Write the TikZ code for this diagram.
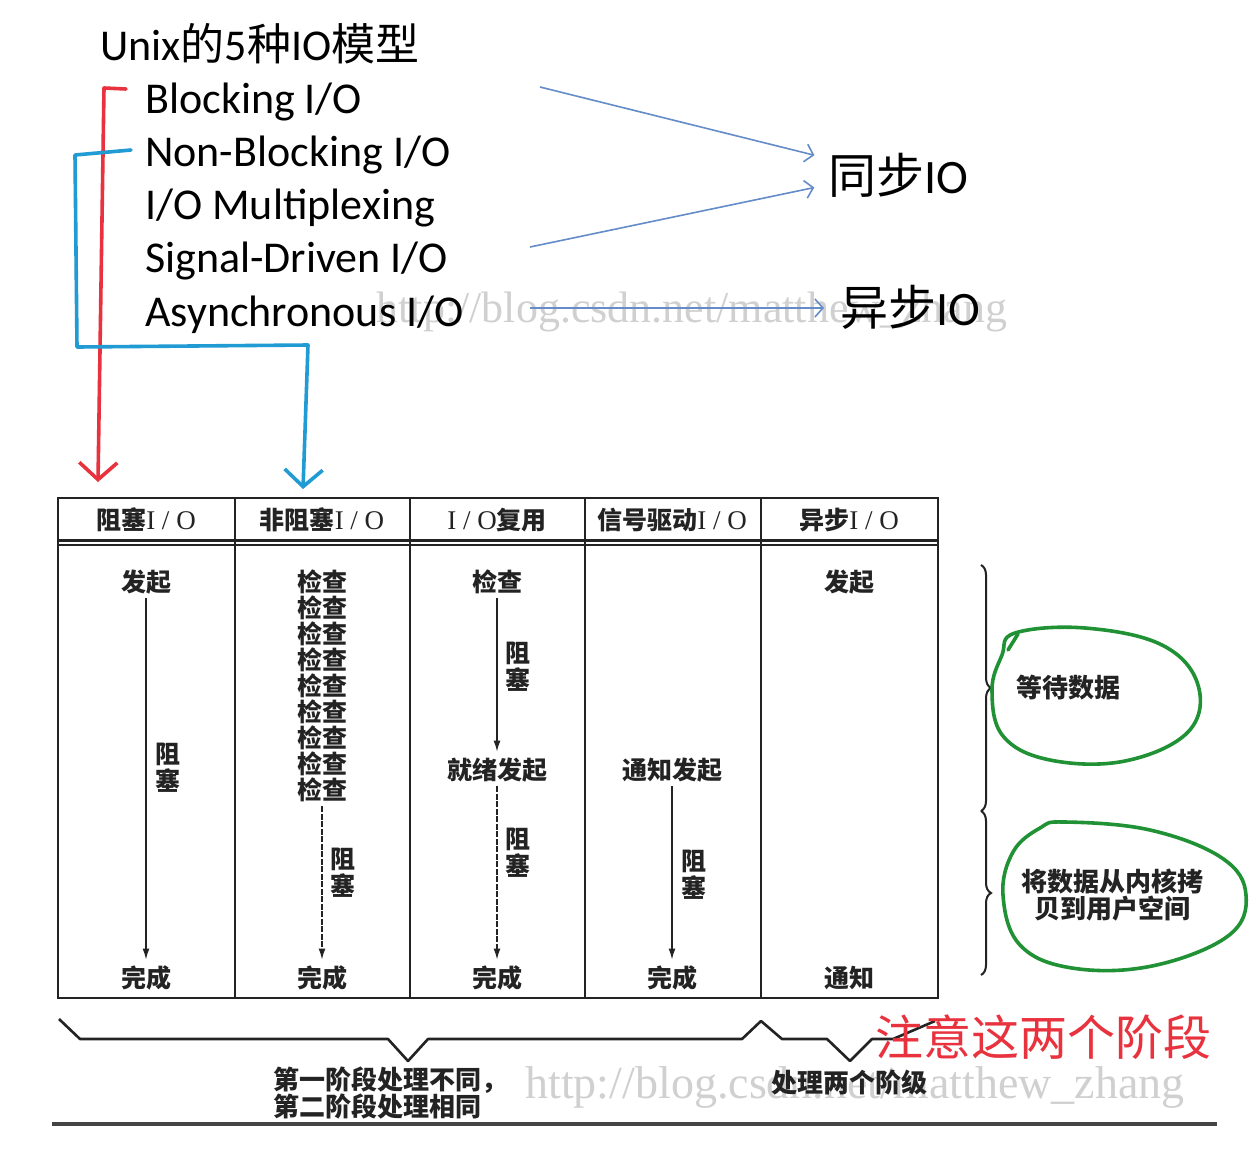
\documentclass[tikz,border=0pt]{standalone}
\usepackage{fontspec}
\setmainfont{Carlito}
\newfontfamily\cjk{Noto Sans CJK SC}
\newfontfamily\tser{Liberation Serif}
\usetikzlibrary{arrows.meta,decorations.pathreplacing}
\definecolor{penred}{RGB}{232,50,62}
\definecolor{penblue}{RGB}{32,155,212}
\definecolor{thinblue}{RGB}{100,140,200}
\definecolor{pengreen}{RGB}{32,145,52}
\definecolor{wmark}{RGB}{208,208,208}
\definecolor{ink}{RGB}{35,35,35}
\begin{document}
\begin{tikzpicture}[x=1pt,y=-1pt,
  toptxt/.style={anchor=base west, inner sep=0pt, font=\fontsize{44}{50}\selectfont},
  bigtxt/.style={anchor=base west, inner sep=0pt, font=\fontsize{48}{54}\selectfont},
  cell/.style={inner sep=0pt, text=ink, font=\cjk\bfseries\fontsize{25}{26}\selectfont},
  stack/.style={cell, align=center, font=\cjk\bfseries\fontsize{25}{27}\selectfont},
  flow/.style={draw=ink, line width=1.4pt, -{Latex[length=11pt,width=7pt]}, shorten <=4pt, shorten >=6pt},
  flowd/.style={flow, dash pattern=on 6pt off 1.5pt},
  pen/.style={line width=3.6pt, line cap=round, line join=round},
  pentip/.style={-{Straight Barb[length=17pt,width=38pt]}},
  syncarrow/.style={draw=thinblue, line width=1.6pt, -{Straight Barb[length=8pt,width=18pt]}},
  frame/.style={draw=ink, line width=2.2pt},
  wm/.style={inner sep=0pt, text=wmark, font=\tser\fontsize{44}{48}\selectfont},
  loop/.style={draw=pengreen, line width=3.6pt, line cap=round}
]
\fill[white] (0,0) rectangle (1252,1154);
\useasboundingbox (0,0) rectangle (1252,1154);

% watermarks
\node[wm] (wmtop) at (692,312) {http://blog.csdn.net/matthew\_zhang};
\node[wm, font=\tser\fontsize{46}{50}\selectfont] (wmbot) at (855,1087) {http://blog.csdn.net/matthew\_zhang};

% top list
\node[toptxt] (title) at (100,60) {Unix{\cjk 的}5{\cjk 种}IO{\cjk 模型}};
\node[toptxt] (blk) at (145,113) {Blocking I/O};
\node[toptxt] (nblk) at (145,166) {Non-Blocking I/O};
\node[toptxt] (mux) at (145,219) {I/O Multiplexing};
\node[toptxt] (sig) at (145,272) {Signal-Driven I/O};
\node[toptxt] (asy) at (145,326) {Asynchronous I/O};
\node[bigtxt] (sync) at (828,193) {{\cjk 同步}IO};
\node[bigtxt] (async) at (840,325) {{\cjk 异步}IO};

\coordinate (s1) at (540,87);
\coordinate (s2) at (530,247);
\coordinate (s3) at (530,308);
\draw[syncarrow, shorten >=14pt] (s1) -- (sync.167);
\draw[syncarrow, shorten >=14pt] (s2) -- (sync.188);
\draw[syncarrow, shorten >=16pt] (s3) -- (async.west |- s3);

% table
\draw[frame] (58,498) rectangle (938,998);
\foreach \x in {235,410,585,761} \draw[draw=ink, line width=2pt] (\x,498) -- (\x,998);
\draw[draw=ink, line width=3pt] (58,540) -- (938,540);
\draw[draw=ink, line width=1.4pt] (58,545) -- (938,545);

\node[cell] (h1) at (146,520) {阻塞{\tser\mdseries\fontsize{27}{27}\selectfont I / O}};
\node[cell] (h2) at (322,520) {非阻塞{\tser\mdseries\fontsize{27}{27}\selectfont I / O}};
\node[cell] (h3) at (497,520) {{\tser\mdseries\fontsize{27}{27}\selectfont I / O}复用};
\node[cell] (h4) at (672,520) {信号驱动{\tser\mdseries\fontsize{27}{27}\selectfont I / O}};
\node[cell] (h5) at (849,520) {异步{\tser\mdseries\fontsize{27}{27}\selectfont I / O}};

% column 1
\node[cell] (a1) at (146,582) {发起};
\node[cell] (d1) at (146,978) {完成};
\node[stack] (b1) at (168,768) {阻\\塞};
\draw[flow] (a1) -- (d1);
% column 2
\node[stack, font=\cjk\bfseries\fontsize{25}{26}\selectfont] (c2) at (322,686) {检查\\检查\\检查\\检查\\检查\\检查\\检查\\检查\\检查};
\node[cell] (d2) at (322,978) {完成};
\node[stack] (b2) at (343,873) {阻\\塞};
\draw[flowd] (c2) -- (d2);
% column 3
\node[cell] (c3) at (497,582) {检查};
\node[cell] (r3) at (497,770) {就绪发起};
\node[cell] (d3) at (497,978) {完成};
\node[stack] (b3a) at (518,667) {阻\\塞};
\node[stack] (b3b) at (518,853) {阻\\塞};
\draw[flow] (c3) -- (r3);
\draw[flowd] (r3) -- (d3);
% column 4
\node[cell] (n4) at (672,770) {通知发起};
\node[cell] (d4) at (672,978) {完成};
\node[stack] (b4) at (694,875) {阻\\塞};
\draw[flow] (n4) -- (d4);
% column 5
\node[cell] (a5) at (849,582) {发起};
\node[cell] (d5) at (849,978) {通知};

% right braces
\draw[draw=ink, line width=2pt, decorate, decoration={brace, amplitude=10pt}] (981,565) -- (981,811);
\draw[draw=ink, line width=2pt, decorate, decoration={brace, amplitude=10pt}] (981,811) -- (981,975);
\node[cell, font=\cjk\bfseries\fontsize{26}{28}\selectfont] (wait) at (1068,688) {等待数据};
\node[cell, align=center, font=\cjk\bfseries\fontsize{26}{27}\selectfont] (copy) at (1112,895) {将数据从内核拷\\贝到用户空间};
\draw[loop] plot[smooth cycle, tension=0.65] coordinates {(1015,633) (1085,628) (1162,645) (1198,685) (1188,732) (1125,761) (1050,760) (1003,736) (992,690) (1002,655)};
\draw[loop] (1008,650) -- (1018,634);
\draw[loop] plot[smooth cycle, tension=0.65] coordinates {(1065,822) (1150,830) (1222,858) (1246,895) (1228,936) (1152,966) (1072,968) (1020,945) (1003,895) (1013,852) (1040,828)};

% bottom brace
\draw[draw=ink, line width=2.6pt, line join=round] (59,1019) -- (80,1039) -- (388,1039) -- (408,1061) -- (428,1039) -- (742,1039) -- (761,1021) -- (782,1039) -- (827,1039) -- (850,1061) -- (872,1039) -- (893,1039) -- (935,1021);
\node[cell, align=left, anchor=west, font=\cjk\bfseries\fontsize{26}{26}\selectfont] (diff) at (273,1093) {第一阶段处理不同，\\第二阶段处理相同};
\node[cell, font=\cjk\bfseries\fontsize{26}{28}\selectfont] (both) at (849,1083) {处理两个阶级};
\node[inner sep=0pt, text=penred, font=\cjk\fontsize{48}{52}\selectfont] (note) at (1043,1037) {注意这两个阶段};
\draw[draw=ink!85, line width=4pt] (52,1124) -- (1217,1124);

% hand-drawn pointers
\coordinate (r0) at (126,89);
\coordinate (r1) at (104,88);
\coordinate (r2) at (98,482);
\draw[pen, draw=penred, pentip] (r0) -- (r1) -- (r2);
\coordinate (q0) at (131,150);
\coordinate (q1) at (75,155);
\coordinate (q2) at (77,347);
\coordinate (q3) at (308,345);
\coordinate (q4) at (303,489);
\draw[pen, draw=penblue, pentip] (q0) -- (q1) -- (q2) -- (q3) -- (q4);
\end{tikzpicture}
\end{document}
